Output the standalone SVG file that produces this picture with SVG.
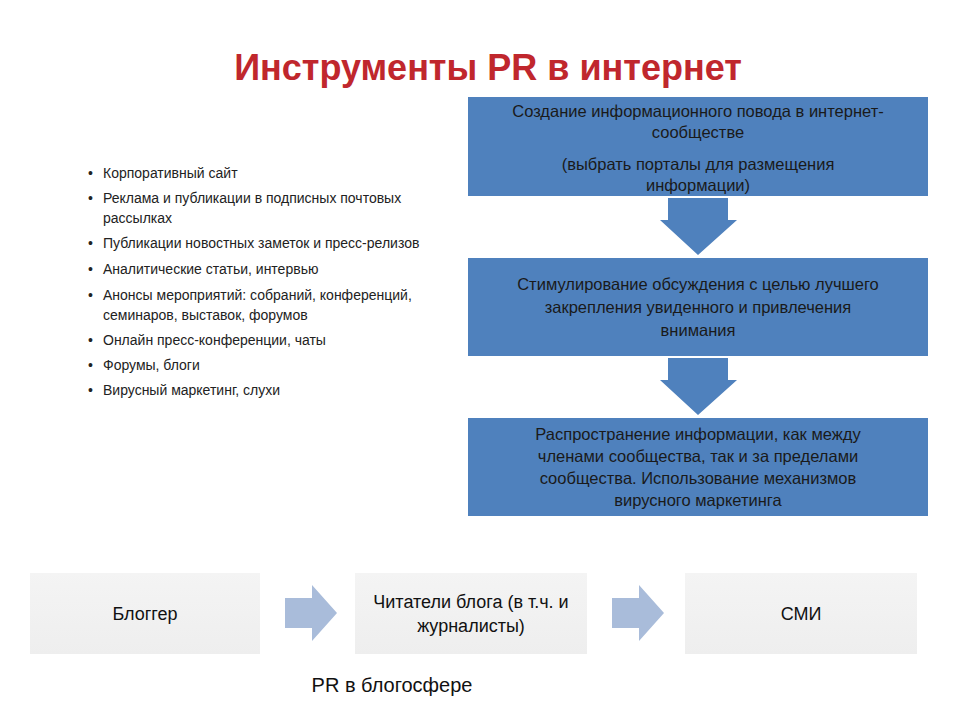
<svg xmlns="http://www.w3.org/2000/svg" width="960" height="720" viewBox="0 0 960 720">
<defs>
<style>
text{font-family:"Liberation Sans Narrow","Liberation Sans",sans-serif}
.b{fill:#4F81BD;stroke:#fff;stroke-width:2}
.bt{font-size:16.5px;fill:#1a1a1a;text-anchor:middle}
.li{font-size:14px;fill:#222}
.g{fill:url(#gr)}
.gt{font-size:18px;fill:#111;text-anchor:middle}
.da{fill:#4F81BD}
.ra{fill:#A9BCDA}
</style>
<linearGradient id="gr" x1="0" y1="0" x2="0" y2="1"><stop offset="0" stop-color="#F4F4F4"/><stop offset="1" stop-color="#EEEEEE"/></linearGradient>
</defs>
<rect width="960" height="720" fill="#fff"/>
<text x="488" y="80" text-anchor="middle" font-size="36" font-weight="bold" fill="#C0272D">Инструменты PR в интернет</text>
<g id="bullets">
<g class="li">
<text x="88" y="178">•</text><text x="103" y="178">Корпоративный сайт</text>
<text x="88" y="203">•</text><text x="103" y="203">Реклама и публикации в подписных почтовых</text>
<text x="103" y="223">рассылках</text>
<text x="88" y="248">•</text><text x="103" y="248">Публикации новостных заметок и пресс-релизов</text>
<text x="88" y="274">•</text><text x="103" y="274">Аналитические статьи, интервью</text>
<text x="88" y="300">•</text><text x="103" y="300">Анонсы мероприятий: собраний, конференций,</text>
<text x="103" y="320">семинаров, выставок, форумов</text>
<text x="88" y="345">•</text><text x="103" y="345">Онлайн пресс-конференции, чаты</text>
<text x="88" y="370">•</text><text x="103" y="370">Форумы, блоги</text>
<text x="88" y="395">•</text><text x="103" y="395">Вирусный маркетинг, слухи</text>
</g>
</g>
<g id="connectors">
<polygon class="da" points="668,197 728,197 728,220 737,220 698,255 660,220 668,220"/>
<polygon class="da" points="668,357 728,357 728,380 737,380 698,415 660,380 668,380"/>
<polygon class="ra" points="285,598 312,598 312,585 337,613 312,641 312,628 285,628"/>
<polygon class="ra" points="612,598 639,598 639,585 664,613 639,641 639,628 612,628"/>
</g>
<g id="n1"><rect class="b" x="467" y="96" width="462" height="101"/>
<text class="bt" x="698" y="117">Создание информационного повода в интернет-</text>
<text class="bt" x="698" y="138">сообществе</text>
<text class="bt" x="698" y="170">(выбрать порталы для размещения</text>
<text class="bt" x="698" y="191">информации)</text></g>
<g id="n2"><rect class="b" x="467" y="257" width="462" height="100"/>
<text class="bt" x="698" y="290">Стимулирование обсуждения с целью лучшего</text>
<text class="bt" x="698" y="313">закрепления увиденного и привлечения</text>
<text class="bt" x="698" y="336">внимания</text></g>
<g id="n3"><rect class="b" x="467" y="417" width="462" height="100"/>
<text class="bt" x="698" y="440">Распространение информации, как между</text>
<text class="bt" x="698" y="462">членами сообщества, так и за пределами</text>
<text class="bt" x="698" y="484">сообщества. Использование механизмов</text>
<text class="bt" x="698" y="506">вирусного маркетинга</text></g>
<g id="s1"><rect class="g" x="30" y="573" width="230" height="81"/><text class="gt" x="145" y="620">Блоггер</text></g>
<g id="s2"><rect class="g" x="355" y="573" width="232" height="81"/><text class="gt" x="471" y="608">Читатели блога (в т.ч. и</text><text class="gt" x="471" y="632">журналисты)</text></g>
<g id="s3"><rect class="g" x="685" y="573" width="232" height="81"/><text class="gt" x="801" y="620">СМИ</text></g>
<text x="392" y="692" text-anchor="middle" font-size="20" fill="#111">PR в блогосфере</text>
</svg>
